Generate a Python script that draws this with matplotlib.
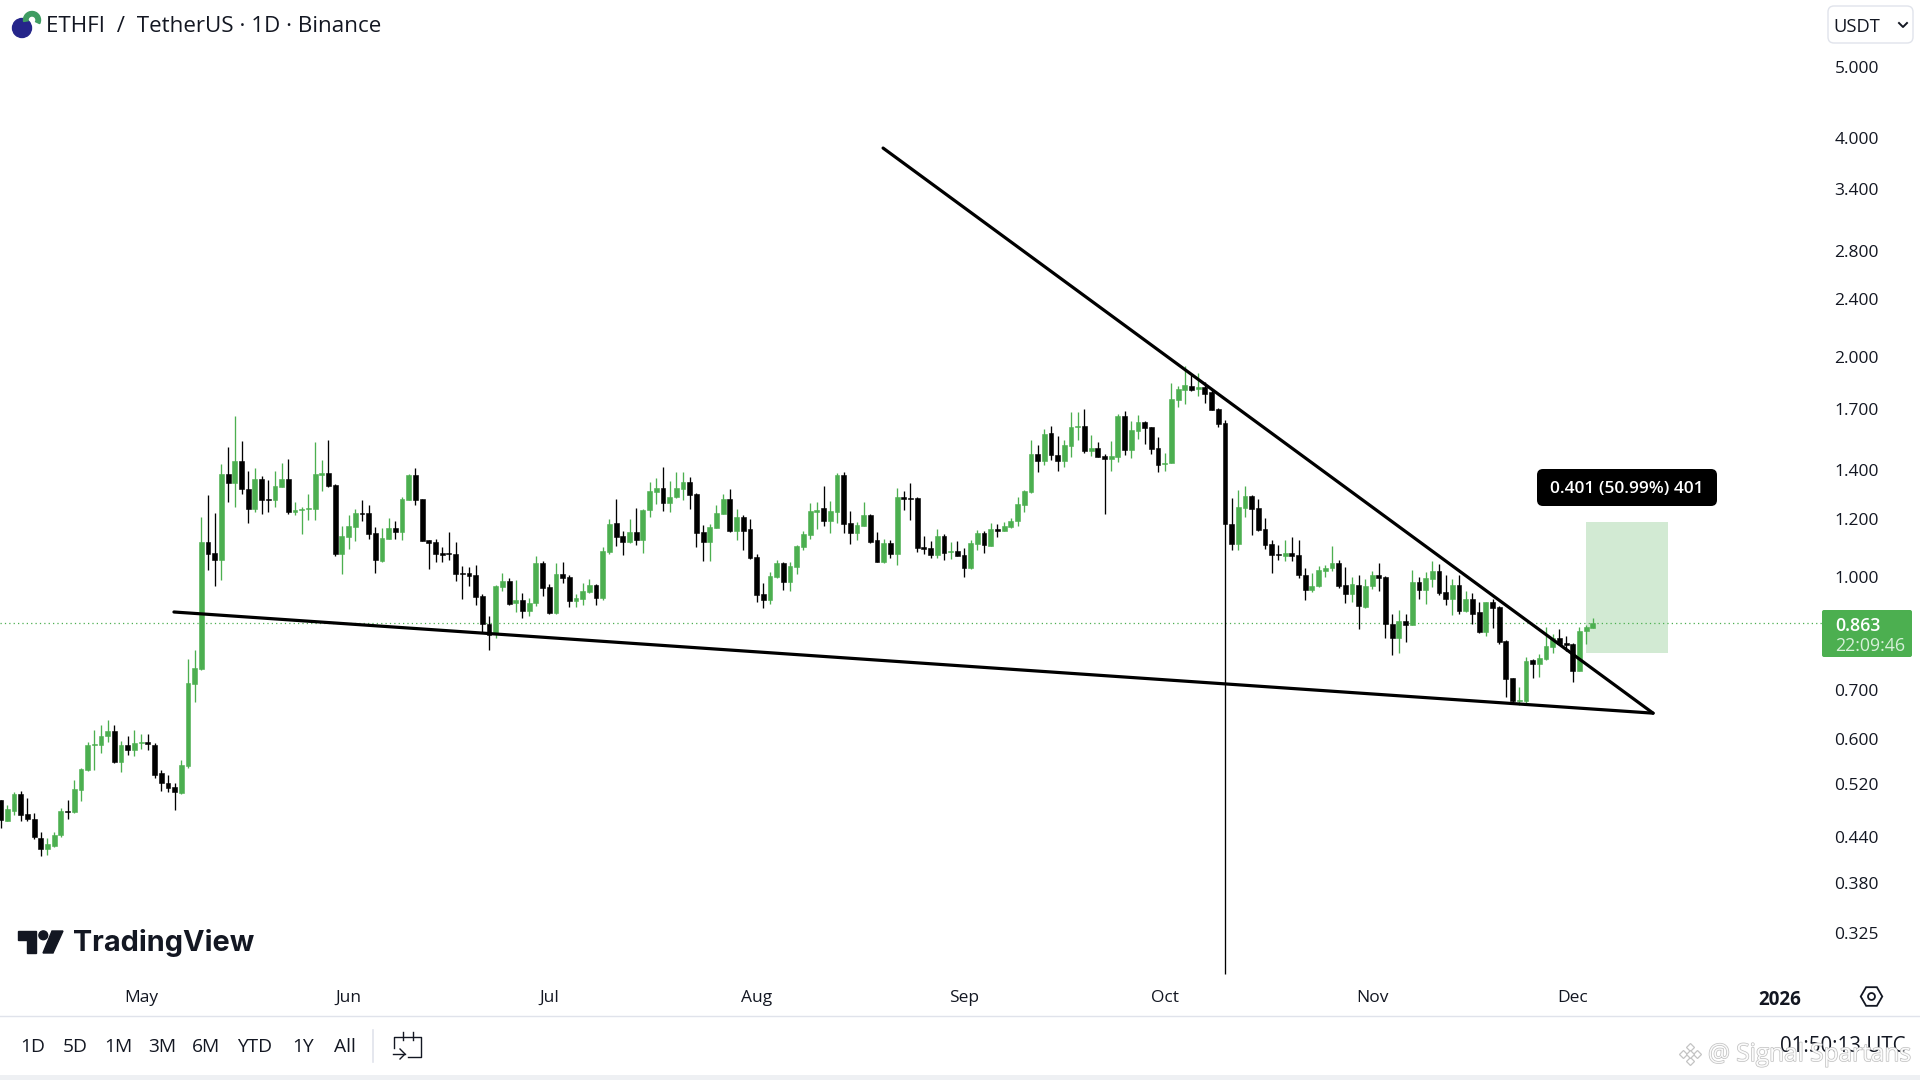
import numpy as np
import matplotlib
matplotlib.use("Agg")
import matplotlib.pyplot as plt
from matplotlib.patches import Rectangle, FancyBboxPatch, Circle, Wedge, Polygon
from matplotlib.ticker import NullLocator
import matplotlib.patheffects as pe

plt.rcParams['font.family'] = ['Open Sans', 'DejaVu Sans']

# daily candles, day 0 = 10 Apr 2025, prices in USDT
highs = [.494,.486,.507,.508,.497,.474,.446,.438,.447,.482,
    .494,.527,.546,.593,.616,.626,.636,.626,.595,.604,
    .616,.608,.608,.591,.543,.535,.522,.561,.771,.793,
    1.209,1.294,1.222,1.427,1.508,1.663,1.535,1.396,1.408,1.374,
    1.357,1.396,1.431,1.450,1.267,1.245,1.298,1.530,1.446,1.540,
    1.342,1.172,1.216,1.237,1.274,1.254,1.169,1.165,1.203,1.192,
    1.285,1.383,1.408,1.278,1.123,1.126,1.097,1.150,1.115,1.034,
    1.031,1.038,.948,.883,.974,1.011,.995,.990,.949,.934,
    1.067,1.051,.976,1.044,1.048,1.007,.947,.980,.993,.977,
    1.097,1.200,1.277,1.154,1.200,1.241,1.238,1.349,1.365,1.414,
    1.351,1.391,1.391,1.370,1.303,1.177,1.181,1.254,1.299,1.319,
    1.238,1.215,1.200,1.073,.980,1.015,1.055,1.048,1.048,1.105,
    1.154,1.262,1.266,1.332,1.270,1.386,1.392,1.231,1.187,1.266,
    1.219,1.152,1.126,1.123,1.322,1.311,1.344,1.286,1.137,1.120,
    1.163,1.144,1.117,1.120,1.095,1.123,1.159,1.155,1.185,1.181,
    1.189,1.204,1.286,1.315,1.540,1.516,1.594,1.610,1.559,1.540,
    1.682,1.682,1.698,1.564,1.530,1.473,1.535,1.670,1.689,1.635,
    1.666,1.635,1.604,1.554,1.478,1.843,1.826,1.945,1.891,1.903,
    1.849,1.804,1.702,1.640,1.281,1.315,1.332,1.294,1.278,1.203,
    1.123,1.105,1.123,1.134,1.123,1.027,1.011,1.034,1.038,1.102,
    1.054,1.030,.998,1.005,.993,1.018,1.044,1.002,.888,.900,
    .889,1.021,.999,1.016,1.051,1.041,1.005,.993,1.005,.956,
    .950,.924,.924,.932,.912,.820,.726,.706,.777,.772,
    .784,.853,.835,.848,.830,.811,.853,.859,.878]

body_tops = [.494,.480,.503,.503,.473,.465,.438,.430,.443,.478,
    .478,.511,.545,.588,.589,.605,.614,.614,.588,.588,
    .591,.594,.594,.588,.538,.521,.515,.552,.714,.749,
    1.116,1.116,1.077,1.383,1.383,1.441,1.441,1.320,1.361,1.361,
    1.278,1.331,1.361,1.361,1.233,1.240,1.243,1.383,1.387,1.387,
    1.335,1.137,1.172,1.223,1.223,1.223,1.148,1.130,1.165,1.166,
    1.278,1.379,1.379,1.278,1.123,1.116,1.077,1.077,1.074,1.012,
    1.012,1.005,.941,.861,.971,.987,.987,.929,.929,.921,
    1.045,1.045,.968,1.009,1.009,.999,.935,.956,.974,.974,
    1.084,1.181,1.185,1.137,1.151,1.151,1.234,1.311,1.323,1.323,
    1.286,1.323,1.349,1.349,1.299,1.151,1.170,1.222,1.278,1.278,
    1.208,1.208,1.162,1.064,.947,1.002,1.045,1.045,1.034,1.101,
    1.143,1.231,1.234,1.244,1.231,1.379,1.379,1.185,1.178,1.215,
    1.215,1.123,1.113,1.113,1.286,1.286,1.282,1.282,1.099,1.095,
    1.137,1.137,1.085,1.085,1.071,1.113,1.148,1.148,1.163,1.163,
    1.174,1.193,1.258,1.311,1.473,1.473,1.569,1.574,1.469,1.516,
    1.605,1.610,1.610,1.502,1.502,1.464,1.464,1.660,1.660,1.589,
    1.630,1.630,1.604,1.502,1.432,1.752,1.809,1.832,1.826,1.820,
    1.820,1.793,1.698,1.624,1.181,1.246,1.290,1.290,1.242,1.161,
    1.109,1.075,1.078,1.078,1.071,1.005,.971,1.021,1.028,1.044,
    1.044,.974,.977,.974,.971,1.005,1.005,.999,.861,.869,
    .869,.984,.984,.996,1.018,1.018,.953,.974,.974,.932,
    .932,.894,.924,.924,.909,.817,.726,.678,.767,.770,
    .773,.803,.824,.824,.811,.809,.842,.853,.864]

body_bottoms = [.464,.463,.478,.472,.465,.439,.423,.423,.428,.442,
    .476,.476,.510,.543,.587,.588,.604,.557,.557,.579,
    .579,.591,.589,.535,.522,.514,.506,.505,.550,.713,
    .748,1.075,1.054,1.054,1.344,1.344,1.318,1.240,1.237,1.274,
    1.274,1.274,1.326,1.227,1.228,1.233,1.239,1.239,1.380,1.331,
    1.075,1.075,1.133,1.169,1.219,1.145,1.054,1.052,1.127,1.152,
    1.152,1.274,1.274,1.120,1.113,1.075,1.072,1.074,1.009,1.009,
    1.002,.938,.861,.832,.834,.968,.917,.921,.897,.897,
    .921,.965,.892,.892,.996,.926,.926,.932,.953,.935,
    .935,1.081,1.133,1.116,1.116,1.123,1.123,1.234,1.307,1.262,
    1.262,1.286,1.319,1.295,1.147,1.116,1.116,1.166,1.218,1.154,
    1.157,1.157,1.061,.943,.929,.929,.999,.983,.983,1.031,
    1.098,1.141,1.227,1.193,1.193,1.227,1.181,1.148,1.148,1.174,
    1.116,1.048,1.048,1.075,1.075,1.278,1.278,1.095,1.092,1.071,
    1.071,1.078,1.081,1.068,1.028,1.028,1.109,1.106,1.102,1.155,
    1.155,1.170,1.193,1.254,1.307,1.442,1.442,1.469,1.442,1.442,
    1.511,1.605,1.487,1.487,1.460,1.451,1.451,1.460,1.492,1.492,
    1.584,1.599,1.497,1.423,1.427,1.432,1.747,1.804,1.804,1.809,
    1.781,1.693,1.620,1.181,1.109,1.109,1.242,1.238,1.159,1.105,
    1.071,1.070,1.068,1.068,1.005,.959,.959,.971,1.018,1.028,
    .971,.947,.947,.912,.909,.971,.996,.860,.824,.824,
    .859,.859,.959,.959,.993,.950,.932,.932,.897,.897,
    .889,.840,.840,.906,.814,.724,.676,.675,.676,.759,
    .759,.771,.801,.809,.806,.743,.743,.842,.850]

lows = [.453,.463,.472,.463,.463,.437,.414,.416,.426,.440,
    .466,.475,.492,.541,.543,.574,.593,.555,.540,.570,
    .567,.581,.578,.529,.509,.507,.479,.504,.547,.674,
    .745,1.021,.972,.990,1.267,1.248,1.298,1.186,1.228,1.219,
    1.228,1.248,1.326,1.219,1.216,1.145,1.195,1.197,1.310,1.329,
    1.069,1.009,1.090,1.120,1.192,1.127,1.012,1.048,1.127,1.127,
    1.123,1.274,1.254,1.120,1.024,1.049,1.046,1.055,.987,.932,
    .971,.915,.836,.793,.825,.956,.915,.895,.878,.883,
    .912,.941,.889,.889,.980,.909,.909,.915,.950,.915,
    .929,1.074,1.102,1.071,1.112,1.105,1.077,1.208,1.258,1.231,
    1.227,1.282,1.274,1.238,1.098,1.051,1.051,1.166,1.218,1.151,
    1.123,1.087,1.057,.923,.906,.917,.996,.959,.956,1.009,
    1.087,1.126,1.162,1.174,1.148,1.185,1.148,1.109,1.123,1.174,
    1.113,1.048,1.044,1.061,1.038,1.235,1.196,1.081,1.075,1.061,
    1.061,1.055,1.058,1.068,1.000,1.025,1.088,1.078,1.102,1.134,
    1.155,1.167,1.174,1.227,1.303,1.392,1.423,1.446,1.397,1.414,
    1.460,1.540,1.478,1.464,1.460,1.219,1.397,1.437,1.469,1.456,
    1.545,1.521,1.473,1.392,1.397,1.432,1.709,1.725,1.798,1.769,
    1.731,1.693,1.605,.285,1.088,1.088,1.209,1.141,1.155,1.092,
    1.012,1.054,1.051,1.051,.996,.929,.953,.968,.999,1.018,
    .965,.921,.924,.848,.906,.962,.956,.824,.781,.786,
    .814,.859,.932,.918,.968,.944,.915,.886,.889,.894,
    .861,.837,.830,.850,.809,.684,.669,.668,.672,.726,
    .728,.769,.786,.806,.791,.718,.743,.809,.850]

# days that closed up, the rest are drawn black
green_days = [1,2,7,8,9,11,12,13,14,15,16,18,20,21,27,28,29,30,33,35,38,41,42,44,45,46,47,48,
    51,52,53,57,58,60,61,74,75,77,79,80,83,86,87,88,90,91,94,96,97,98,100,101,102,106,107,108,
    110,115,116,118,119,120,121,122,124,125,128,129,132,134,140,142,145,146,148,150,151,152,153,
    154,156,159,160,161,163,166,167,169,170,174,175,176,177,179,185,186,192,196,197,198,199,202,
    204,205,209,211,213,214,217,219,222,227,228,230,231,232,236,237,238]

month_days = [21, 52, 82, 113, 144, 174, 205, 235, 266]
month_labels = ['May', 'Jun', 'Jul', 'Aug', 'Sep', 'Oct', 'Nov', 'Dec', '2026']
price_ticks = [5, 4, 3.4, 2.8, 2.4, 2, 1.7, 1.4, 1.2, 1, .7, .6, .52, .44, .38, .325]

last_price = .863
upper_line_days = [131.9, 247.0]
upper_line_prices = [3.87, .650]
lower_line_days = [25.9, 247.0]
lower_line_prices = [.8946, .650]
target_days = [237.0, 249.2]
target_prices = [.786, 1.187]

range_labels = ['1D', '5D', '1M', '3M', '6M', 'YTD', '1Y', 'All']

GREEN = '#4caf50'
TEXT = '#131722'
W, H = 1920, 1080

fig = plt.figure(figsize=(19.2, 10.8), dpi=100, facecolor='white')

# chart pane: 1822 px wide, 975 px high
ax = fig.add_axes([0, 1 - 975 / H, 1822 / W, 975 / H])
ax.set_yscale('log')
ax.set_xlim(-0.1, 272.25)
ax.set_ylim(.2844, 6.176)
for s in ax.spines.values():
    s.set_visible(False)

days = np.arange(len(highs))
tops = np.array(body_tops)
bottoms = np.array(body_bottoms)
colors = np.array(['#000000'] * len(days))
colors[green_days] = GREEN

ax.axhline(last_price, color=GREEN, ls=(0, (1, 2.5)), lw=0.9, zorder=1)
ax.add_patch(Rectangle((target_days[0], target_prices[0]), target_days[1] - target_days[0],
                       target_prices[1] - target_prices[0], facecolor=GREEN, alpha=0.25,
                       edgecolor='none', zorder=2))
ax.vlines(days, lows, highs, colors=colors, lw=0.95, zorder=3)
ax.bar(days, tops - bottoms, bottom=bottoms, width=0.72, color=colors, edgecolor=colors,
       linewidth=0.4, zorder=4)
ax.plot(lower_line_days, lower_line_prices, color='black', lw=2.3, solid_capstyle='round', zorder=5)
ax.plot(upper_line_days, upper_line_prices, color='black', lw=2.3, solid_capstyle='round', zorder=5)

ax.yaxis.tick_right()
ax.set_yticks(price_ticks)
ax.set_yticklabels(['%.3f' % p for p in price_ticks])
ax.yaxis.set_minor_locator(NullLocator())
ax.set_xticks(month_days)
ax.set_xticklabels(month_labels)
ax.tick_params(axis='y', length=0, pad=9, labelsize=12.5, labelcolor=TEXT)
ax.tick_params(axis='x', length=0, pad=10.5, labelsize=12.5, labelcolor=TEXT)
ax.get_xticklabels()[-1].set_fontweight('bold')
ax.get_xticklabels()[-1].set_fontsize(13.5)

# everything around the chart, in screen pixels
ui = fig.add_axes([0, 0, 1, 1], zorder=10)
ui.set_xlim(0, W)
ui.set_ylim(H, 0)
ui.axis('off')
ui.patch.set_alpha(0)

# title and coin logo
ui.add_patch(Circle((22, 28), 9.5, color='#25258a'))
ui.add_patch(Wedge((32, 20), 8.5, 170, 385, width=4.5, color='#3f9c62'))
ui.text(46, 27, 'ETHFI  /  TetherUS · 1D · Binance', fontsize=16.1, color=TEXT, va='center')

# currency button
ui.add_patch(FancyBboxPatch((1828, 6), 85, 37, boxstyle='round,pad=0,rounding_size=6',
                            fc='white', ec='#e0e3eb', lw=1))
ui.text(1833, 27, 'USDT', fontsize=13.2, color=TEXT, va='center')
ui.plot([1899, 1903, 1907], [23, 27, 23], color=TEXT, lw=1.4)

# measure label
ui.add_patch(FancyBboxPatch((1537, 469), 180, 37, boxstyle='round,pad=0,rounding_size=6',
                            fc='black', ec='none'))
ui.text(1627, 489, '0.401 (50.99%) 401', fontsize=12.5, color='white', ha='center', va='center',
        fontweight='semibold')

# last price tag
ui.add_patch(FancyBboxPatch((1822, 610), 90, 47, boxstyle='round,pad=0,rounding_size=2',
                            fc=GREEN, ec='none'))
ui.text(1835, 626, '0.863', fontsize=12.8, color='white', va='center', fontweight='semibold')
ui.text(1835, 646, '22:09:46', fontsize=12.8, color='#d7f0d9', va='center')

# TradingView logo
ui.add_patch(Polygon([(18, 931), (36, 931), (36, 953), (27, 953), (27, 939.5), (18, 939.5)], color=TEXT))
ui.add_patch(Circle((43.3, 935.3), 4.4, color=TEXT))
ui.add_patch(Polygon([(52, 931), (63, 931), (53, 953), (43, 953)], color=TEXT))
ui.text(73, 943, 'TradingView', fontsize=20.8, color=TEXT, va='center', family='Inter',
        fontweight='bold')

# settings icon
ui.plot([1871], [995.5], marker='H', ms=15.5, mfc='none', mec=TEXT, mew=1.3)
ui.plot([1871], [995.5], marker='o', ms=5, mfc='none', mec=TEXT, mew=1.3)

# bottom toolbar
ui.plot([0, W], [1016, 1016], color='#e0e3eb', lw=1)
ui.add_patch(Rectangle((0, 1075), W, 5, color='#eef0f3', lw=0))
for x, lab in zip([33, 75, 118, 162, 206, 255, 303, 345], range_labels):
    ui.text(x, 1047, lab, fontsize=13.8, color=TEXT, ha='center', va='center')
ui.plot([372.5, 372.5], [1030, 1062], color='#e0e3eb', lw=1.2)

# go to date icon
ui.plot([394, 394, 421, 421, 408], [1048, 1037, 1037, 1057, 1057], color=TEXT, lw=1.0)
ui.plot([403, 403], [1032, 1040], color=TEXT, lw=1.0)
ui.plot([413, 413], [1032, 1040], color=TEXT, lw=1.0)
ui.plot([393, 405], [1054, 1054], color=TEXT, lw=1.0)
ui.plot([400, 405, 400], [1049, 1054, 1059], color=TEXT, lw=1.0)

ui.text(1905, 1047, '01:50:13 UTC', fontsize=14.8, color=TEXT, ha='right', va='center')

# watermark over the clock
ui.text(1708, 1055, '@ Signal Spartans', fontsize=17.6, color='white', va='center', alpha=0.9,
        path_effects=[pe.withStroke(linewidth=1.0, foreground='#b8b8b8')])
for dx, dy in [(0, -7), (-7, 0), (7, 0), (0, 7), (0, 0)]:
    ui.plot([1690 + dx], [1054 + dy], marker='D', ms=4.5, mfc='white', mec='#c4c4c4', mew=0.9)

fig.savefig('out.png', dpi=100, facecolor='white')
